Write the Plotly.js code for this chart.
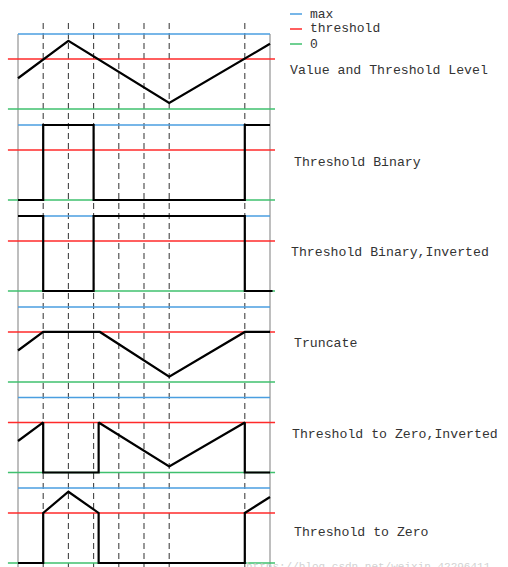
<!DOCTYPE html>
<html>
<head>
<meta charset="utf-8">
<script src="https://cdn.plot.ly/plotly-3.0.1.min.js"></script>
<style>
  html, body { margin: 0; padding: 0; background: #ffffff; }
  #chart { width: 508px; height: 567px; }
</style>
</head>
<body>
<div id="chart"></div>
<script>
// ------------------------------------------------------------------------------
// DATA

// levels shared by every panel
const maxLevel       = 1;
const thresholdLevel = 0.667;
const zeroLevel      = 0;

// dashed guides
const guideX = [1, 2, 3, 4, 5, 6, 9];

const panelNames = [
    'Value and Threshold Level',
    'Threshold Binary',
    'Threshold Binary,Inverted',
    'Truncate',
    'Threshold to Zero,Inverted',
    'Threshold to Zero'
];

const valueX      = [0, 2, 6, 10];
const valueY      = [0.41, 0.91, 0.08, 0.87];

const binaryX     = [0, 1, 1, 3, 3, 9, 9, 10];
const binaryY     = [0, 0, 1, 1, 0, 0, 1, 1];

const binaryInvX  = [0, 1, 1, 3, 3, 9, 9, 10.1];
const binaryInvY  = [1, 1, 0, 0, 1, 1, 0, 0];

const truncX      = [0, 1, 3.25, 6, 9, 10];
const truncY      = [0.42, 0.667, 0.667, 0.07, 0.667, 0.667];

const toZeroInvX  = [0, 1, 1, 3.2, 3.2, 6, 9, 9, 10];
const toZeroInvY  = [0.42, 0.667, 0, 0, 0.667, 0.08, 0.667, 0, 0];

const toZeroX     = [0, 1, 1, 2, 3.2, 3.2, 9, 9, 10];
const toZeroY     = [0, 0, 0.667, 0.95, 0.667, 0, 0, 0.667, 0.88];

const legendNames = ['max', 'threshold', '0'];

const watermark = 'https://blog.csdn.net/weixin_42296411';


// ------------------------------------------------------------------------------
// LAYOUT PARAMETERS

const W = 508;
const H = 567;
const x0px = 18;          // pixel of x = 0
const pxPerX = 25.2;
const pxPerY = 75;
const greenPx = [109, 200, 291, 382, 472.5, 563];
const labelPos = [[288, 70.5], [291.5, 162], [289, 252.5], [291.5, 343], [289.5, 434], [291.5, 532.5]];

const colMax = '#4a9ee0';
const colThr = '#ff2a2a';
const colZero = '#3fc06e';
const fontMono = '"Liberation Mono", "DejaVu Sans Mono", monospace';

const signals = [
    [valueX, valueY],
    [binaryX, binaryY],
    [binaryInvX, binaryInvY],
    [truncX, truncY],
    [toZeroInvX, toZeroInvY],
    [toZeroX, toZeroY]
];

function py(px) { return 1 - px / H; }


// ------------------------------------------------------------------------------
// BUILD

const traces = [];
const layout = {
    width: W,
    height: H,
    margin: { l: 0, r: 0, t: 0, b: 0 },
    paper_bgcolor: '#ffffff',
    plot_bgcolor: 'rgba(0,0,0,0)',
    showlegend: false,
    xaxis: {
        range: [-x0px / pxPerX, (W - x0px) / pxPerX],
        domain: [0, 1],
        visible: false,
        fixedrange: true
    },
    shapes: [],
    annotations: []
};

for (let i = 0; i < signals.length; i++) {
    const g = greenPx[i];
    const bottomPx = Math.min(g + 7.5, H);
    const topPx = g - pxPerY - 7.5;
    const yname = i === 0 ? 'yaxis' : 'yaxis' + (i + 1);
    const yref = i === 0 ? 'y' : 'y' + (i + 1);

    layout[yname] = {
        domain: [py(bottomPx), py(topPx)],
        range: [-(bottomPx - g) / pxPerY, 1 + 7.5 / pxPerY],
        visible: false,
        fixedrange: true,
        anchor: 'x'
    };

    const lvl = [
        { y: maxLevel, x: [0, 10], c: colMax },
        { y: thresholdLevel, x: [-0.4, 10.2], c: colThr },
        { y: zeroLevel, x: [-0.4, 10.2], c: colZero }
    ];
    for (const l of lvl) {
        traces.push({
            x: l.x,
            y: [l.y, l.y],
            mode: 'lines',
            type: 'scatter',
            line: { color: l.c, width: 1.4 },
            yaxis: yref,
            hoverinfo: 'none',
            cliponaxis: false
        });
    }

    traces.push({
        x: signals[i][0],
        y: signals[i][1],
        mode: 'lines',
        type: 'scatter',
        line: { color: '#000000', width: 2.2 },
        yaxis: yref,
        hoverinfo: 'none',
        cliponaxis: false
    });

    layout.annotations.push({
        text: panelNames[i],
        xref: 'paper', yref: 'paper',
        x: labelPos[i][0] / W, y: py(labelPos[i][1]),
        xanchor: 'left', yanchor: 'middle',
        showarrow: false,
        font: { family: fontMono, size: 13.2, color: '#333333' }
    });
}

// vertical guides
for (const gx of guideX) {
    layout.shapes.push({
        type: 'line', layer: 'below',
        xref: 'x', yref: 'paper',
        x0: gx, x1: gx, y0: py(23), y1: 0,
        line: { color: '#444444', width: 1.1, dash: '6px,4px' }
    });
}
for (const bx of [0, 10]) {
    layout.shapes.push({
        type: 'line', layer: 'below',
        xref: 'x', yref: 'paper',
        x0: bx, x1: bx, y0: py(34), y1: 0,
        line: { color: '#a8a8a8', width: 1.5 }
    });
}

// legend
const legendCols = [colMax, colThr, colZero];
const legendY = [14, 29, 44];
for (let k = 0; k < legendNames.length; k++) {
    layout.shapes.push({
        type: 'line',
        xref: 'paper', yref: 'paper',
        x0: 290 / W, x1: 302 / W, y0: py(legendY[k]), y1: py(legendY[k]),
        line: { color: legendCols[k], width: 1.5 }
    });
    layout.annotations.push({
        text: legendNames[k],
        xref: 'paper', yref: 'paper',
        x: 308 / W, y: py(legendY[k]),
        xanchor: 'left', yanchor: 'middle',
        showarrow: false,
        font: { family: fontMono, size: 13, color: '#333333' }
    });
}

// watermark
layout.annotations.push({
    text: watermark,
    xref: 'paper', yref: 'paper',
    x: 244 / W, y: py(559),
    xanchor: 'left', yanchor: 'top',
    showarrow: false,
    font: { family: fontMono, size: 11, color: '#d2d2d2' }
});

Plotly.newPlot('chart', traces, layout, { displayModeBar: false, staticPlot: true });
</script>
</body>
</html>
